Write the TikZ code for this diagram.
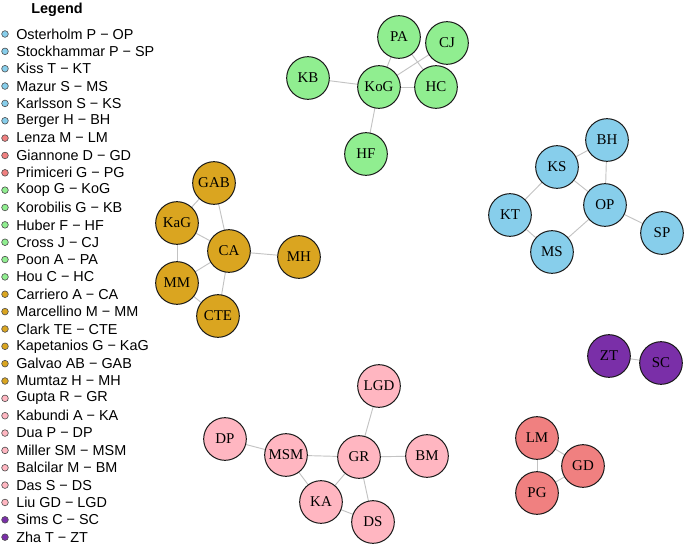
\documentclass[tikz,border=0pt]{standalone}
\usepackage{fontspec}
\setmainfont{Liberation Serif}
\newfontfamily\legfont{Liberation Sans}
\usetikzlibrary{backgrounds}

\definecolor{clBlue}{RGB}{135,206,235}
\definecolor{clGreen}{RGB}{144,238,144}
\definecolor{clGold}{RGB}{218,165,32}
\definecolor{clPink}{RGB}{255,182,193}
\definecolor{clRed}{RGB}{240,128,128}
\definecolor{clPurple}{RGB}{122,47,168}
\definecolor{clEdge}{RGB}{195,195,195}

\tikzset{
  vert/.style={circle,draw=black!90,line width=0.75pt,minimum size=32pt,inner sep=0pt,
    font=\fontsize{11.2}{11.2}\selectfont},
  link/.style={draw=clEdge,line width=0.7pt},
  legdot/.style={circle,draw=black!70,line width=0.45pt,minimum size=5pt,inner sep=0pt},
  legtext/.style={anchor=west,inner sep=0pt,font=\legfont\fontsize{10.8}{10.8}\selectfont},
}

\begin{document}
\begin{tikzpicture}[x=0.75pt,y=-0.75pt]
  \useasboundingbox (0,0) rectangle (685,550);

  %legend
  \node[font=\legfont\bfseries\fontsize{10.8}{10.8}\selectfont] (legtitle) at (57,10) {Legend};
  \foreach \who/\col [count=\i] in {
    Osterholm P − OP/clBlue, Stockhammar P − SP/clBlue, Kiss T − KT/clBlue,
    Mazur S − MS/clBlue, Karlsson S − KS/clBlue, Berger H − BH/clBlue,
    Lenza M − LM/clRed, Giannone D − GD/clRed, Primiceri G − PG/clRed,
    Koop G − KoG/clGreen, Korobilis G − KB/clGreen, Huber F − HF/clGreen,
    Cross J − CJ/clGreen, Poon A − PA/clGreen, Hou C − HC/clGreen,
    Carriero A − CA/clGold, Marcellino M − MM/clGold, Clark TE − CTE/clGold,
    Kapetanios G − KaG/clGold, Galvao AB − GAB/clGold, Mumtaz H − MH/clGold,
    Gupta R − GR/clPink, Kabundi A − KA/clPink, Dua P − DP/clPink,
    Miller SM − MSM/clPink, Balcilar M − BM/clPink, Das S − DS/clPink,
    Liu GD − LGD/clPink, Sims C − SC/clPurple, Zha T − ZT/clPurple}{
    \node[legdot,fill=\col] (dot\i) at (5,{34+17.35*(\i-1)}) {};
    \node[legtext] (item\i) at (16,{34+17.35*(\i-1)}) {\who};
  }

  %green group
  \node[vert,fill=clGreen] (KB) at (308,78) {KB};
  \node[vert,fill=clGreen] (KoG) at (379,87) {KoG};
  \node[vert,fill=clGreen] (HF) at (366,154) {HF};
  \node[vert,fill=clGreen] (PA) at (399,37) {PA};
  \node[vert,fill=clGreen] (CJ) at (447,43) {CJ};
  \node[vert,fill=clGreen] (HC) at (436,87) {HC};

  %blue group
  \node[vert,fill=clBlue] (BH) at (607,140) {BH};
  \node[vert,fill=clBlue] (KS) at (557,167) {KS};
  \node[vert,fill=clBlue] (OP) at (605,205) {OP};
  \node[vert,fill=clBlue] (KT) at (510,215) {KT};
  \node[vert,fill=clBlue] (MS) at (552,252) {MS};
  \node[vert,fill=clBlue] (SP) at (662,233) {SP};

  %gold group
  \node[vert,fill=clGold] (GAB) at (214,183) {GAB};
  \node[vert,fill=clGold] (KaG) at (177,223) {KaG};
  \node[vert,fill=clGold] (CA) at (229,251) {CA};
  \node[vert,fill=clGold] (MH) at (299,257) {MH};
  \node[vert,fill=clGold] (MM) at (177,283) {MM};
  \node[vert,fill=clGold] (CTE) at (218,316) {CTE};

  %pink group
  \node[vert,fill=clPink] (LGD) at (379,386) {LGD};
  \node[vert,fill=clPink] (DP) at (225,439) {DP};
  \node[vert,fill=clPink] (MSM) at (286,455) {MSM};
  \node[vert,fill=clPink] (GR) at (359,457) {GR};
  \node[vert,fill=clPink] (BM) at (427,456) {BM};
  \node[vert,fill=clPink] (KA) at (321,502) {KA};
  \node[vert,fill=clPink] (DS) at (373,522) {DS};

  %purple and red groups
  \node[vert,fill=clPurple] (ZT) at (609,356) {ZT};
  \node[vert,fill=clPurple] (SC) at (661,363) {SC};
  \node[vert,fill=clRed] (LM) at (537,438) {LM};
  \node[vert,fill=clRed] (GD) at (583,466) {GD};
  \node[vert,fill=clRed] (PG) at (537,493) {PG};

  %edges
  \begin{scope}[on background layer]
    \draw[link] (KB.center) -- (KoG.center);
    \draw[link] (KoG.center) -- (PA.center);
    \draw[link] (KoG.center) -- (CJ.center);
    \draw[link] (KoG.center) -- (HC.center);
    \draw[link] (PA.center) -- (HC.center);
    \draw[link] (KoG.center) -- (HF.center);

    \draw[link] (KS.center) -- (BH.center);
    \draw[link] (BH.center) -- (OP.center);
    \draw[link] (KS.center) -- (OP.center);
    \draw[link] (KS.center) -- (KT.center);
    \draw[link] (KT.center) -- (MS.center);
    \draw[link] (MS.center) -- (OP.center);
    \draw[link] (OP.center) -- (SP.center);

    \draw[link] (GAB.center) -- (KaG.center);
    \draw[link] (GAB.center) -- (CA.center);
    \draw[link] (KaG.center) -- (CA.center);
    \draw[link] (KaG.center) -- (MM.center);
    \draw[link] (MM.center) -- (CA.center);
    \draw[link] (CA.center) -- (MH.center);
    \draw[link] (CA.center) -- (CTE.center);
    \draw[link] (MM.center) -- (CTE.center);

    \draw[link] (DP.center) -- (MSM.center);
    \draw[link] (MSM.center) -- (GR.center);
    \draw[link] (GR.center) -- (LGD.center);
    \draw[link] (GR.center) -- (BM.center);
    \draw[link] (MSM.center) -- (KA.center);
    \draw[link] (KA.center) -- (GR.center);
    \draw[link] (GR.center) -- (DS.center);
    \draw[link] (KA.center) -- (DS.center);

    \draw[link] (ZT.center) -- (SC.center);
    \draw[link] (LM.center) -- (GD.center);
    \draw[link] (LM.center) -- (PG.center);
    \draw[link] (PG.center) -- (GD.center);
  \end{scope}
\end{tikzpicture}
\end{document}
